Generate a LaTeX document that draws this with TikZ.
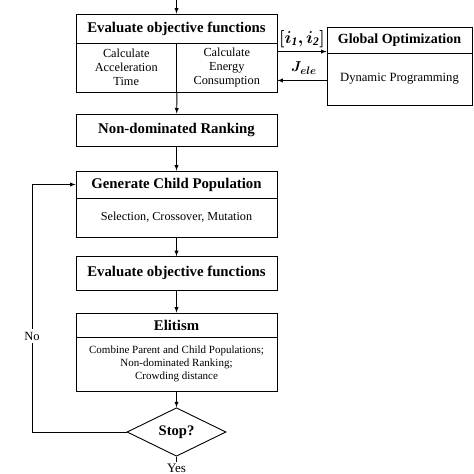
\documentclass[tikz,border=0pt]{standalone}
\usepackage{bm}
\usepackage{fontspec}
\setmainfont{Liberation Serif}
\usetikzlibrary{positioning,shapes.geometric,arrows,calc}

\begin{document}
\begin{tikzpicture}[x=1pt, y=-1pt, >=latex, line width=0.9pt,
  hdr/.style={draw, inner sep=0pt, minimum width=201pt,
    font=\fontsize{14.8}{16}\selectfont\bfseries},
  cell/.style={draw, inner sep=0pt, align=center,
    font=\fontsize{12.3}{14}\selectfont},
  small/.style={draw, inner sep=0pt, align=center, minimum width=201pt,
    font=\fontsize{11}{13}\selectfont}]

\useasboundingbox (0,0) rectangle (474,474);

% main column
\node[hdr, minimum height=29pt] (eval1) at (176.5,28.5) {Evaluate objective functions};
\node[cell, minimum width=100.5pt, minimum height=49pt] (acc) at (126.25,67.5) {Calculate\\Acceleration\\Time};
\node[cell, minimum width=100.5pt, minimum height=49pt] (energy) at (226.75,67.5) {Calculate\\Energy\\Consumption};

% global optimization
\node[hdr, minimum width=145pt, minimum height=26pt, font=\fontsize{14}{16}\selectfont\bfseries] (glob) at (399.5,40) {Global Optimization};
\node[cell, minimum width=145pt, minimum height=52pt, font=\fontsize{12.6}{14}\selectfont] (dp) at (399.5,79) {Dynamic Programming};

\node[hdr, minimum height=32.7pt] (ndr) at (176.5,130.3) {Non-dominated Ranking};

\node[hdr, minimum height=27pt] (gcp) at (176.5,184.5) {Generate Child Population};
\node[small, minimum height=39pt, font=\fontsize{12.2}{14}\selectfont] (sel) at (176.5,217.5) {Selection, Crossover, Mutation};

\node[hdr, minimum height=33.3pt] (eval2) at (176.5,273.3) {Evaluate objective functions};

\node[hdr, minimum height=24pt] (elit) at (176.5,325) {Elitism};
\node[small, minimum height=54pt] (comb) at (176.5,364) {Combine Parent and Child Populations;\\Non-dominated Ranking;\\Crowding distance};

\node[draw, diamond, inner sep=0pt, minimum width=99pt, minimum height=39pt,
  font=\fontsize{14.6}{16}\selectfont\bfseries] (stop) at (176.5,432) {Stop?};

\node[font=\fontsize{13}{15}\selectfont, inner sep=1pt] (yes) at (176.5,468) {Yes};
\node[fill=white, font=\fontsize{12.5}{14}\selectfont, inner sep=2pt] (no) at (32,336) {No};

\coordinate (start) at (176.5,0);

% connectors
\draw[->] (start) -- (eval1);
\draw[->] (acc.south east) -- (ndr);
\draw[->] (ndr) -- (gcp);
\draw[->] (sel) -- (eval2);
\draw[->] (eval2) -- (elit);
\draw[->] (comb) -- (stop);
\draw (stop) -- (yes);
\draw (stop.west) -| (no.south);
\draw[->] (no.north) |- (gcp.west);

\draw[->] ([yshift=-9pt]energy.north east) -- ([yshift=-9pt]energy.north east -| glob.west);
\draw[<-] ([yshift=12pt]energy.south east) -- ([yshift=12pt]energy.south east -| dp.west);

\node[font=\fontsize{16.5}{18}\selectfont] (ivec) at (302,39) {$\bm{[i_{\mathit 1},i_{\mathit 2}]}$};
\node[font=\fontsize{15.5}{17}\selectfont] (jele) at (304,68) {$\bm{J_{ele}}$};

\end{tikzpicture}
\end{document}
